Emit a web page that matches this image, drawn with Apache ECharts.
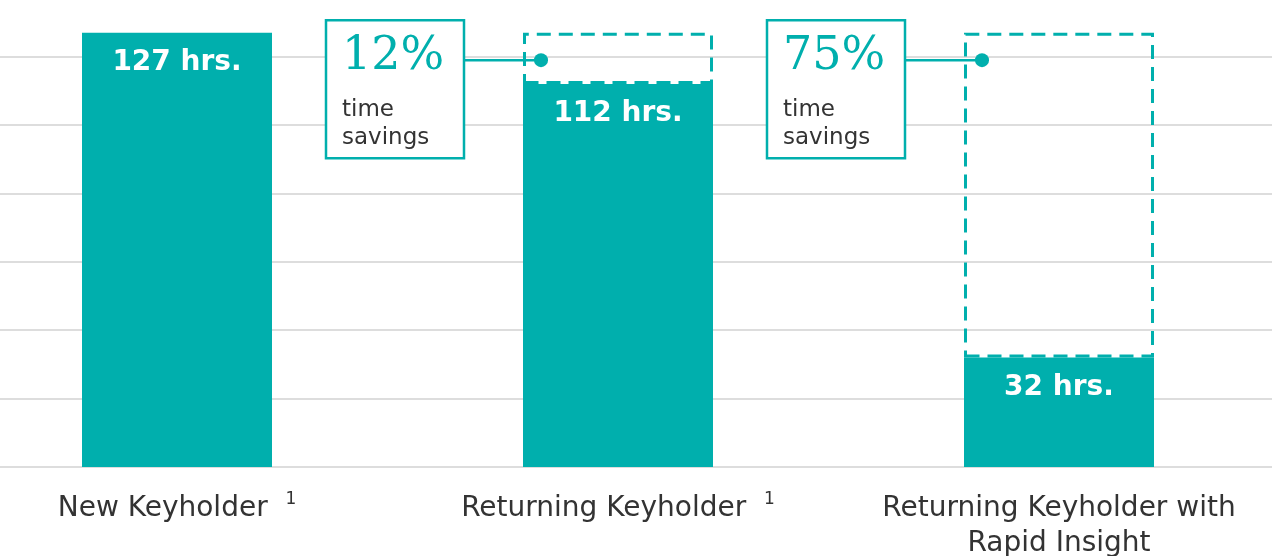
<!DOCTYPE html><html><head><meta charset="utf-8">
<script src="https://cdn.jsdelivr.net/npm/echarts@6/dist/echarts.min.js"></script>
<style>html,body{margin:0;padding:0;background:#fff}#c{width:1272px;height:556px}</style></head><body><div id="c"></div>
<script>
const categories=['New Keyholder','Returning Keyholder','Returning Keyholder with\nRapid Insight'];
const sups=['1','1',''];
const hours=[127,112,32];
const saved=[0,15,95];
const savingsText=['','12%','75%'];
const teal='#00AFAD';
const chart=echarts.init(document.getElementById('c'));
chart.setOption({
 animation:false,
 grid:{left:-43.5,width:1323,top:2,bottom:89,outerBoundsMode:'none',containLabel:false},
 xAxis:{type:'category',data:categories,axisTick:{show:false},axisLine:{lineStyle:{color:'#ddd',width:2}},
  axisLabel:{interval:0,margin:24,fontFamily:'DejaVu Sans',fontSize:28,color:'#333',lineHeight:35,
   formatter:(v,i)=>sups[i]?v+'  {s|'+sups[i]+'}':v,
   rich:{s:{fontSize:17,fontFamily:'DejaVu Sans',color:'#333',padding:[0,0,18,0]}}}},
 yAxis:{type:'value',min:0,max:136,interval:20,axisLabel:{show:false},
  splitLine:{showMaxLine:false,lineStyle:{color:'#ddd',width:2}}},
 series:[
  {type:'bar',stack:'a',data:hours,barWidth:190,itemStyle:{color:teal},
   label:{show:true,position:'insideTop',distance:16,formatter:p=>p.value+' hrs.',color:'#fff',fontWeight:'bold',fontSize:28,fontFamily:'DejaVu Sans'}},
  {type:'bar',stack:'a',data:saved.map(v=>v||null),barWidth:190,
   itemStyle:{color:'rgba(0,0,0,0)',borderColor:teal,borderWidth:3,borderType:[14,8]}}
 ]
});
const g=[];
[1,2].forEach(i=>{
 const p=chart.convertToPixel({xAxisIndex:0,yAxisIndex:0},[i,119]);
 const dx=p[0]-77,dy=p[1];
 const bx=dx-215,by=dy-40;
 g.push({type:'rect',shape:{x:bx,y:by,width:138,height:138},style:{fill:'#fff',stroke:teal,lineWidth:2.5}});
 g.push({type:'line',shape:{x1:bx+138,y1:dy,x2:dx,y2:dy},style:{stroke:teal,lineWidth:2.5}});
 g.push({type:'circle',shape:{cx:dx,cy:dy,r:7},style:{fill:teal}});
 g.push({type:'text',x:bx+16,y:by+14,style:{text:savingsText[i],fill:teal,font:'46px "DejaVu Serif"'}});
 g.push({type:'text',x:bx+16,y:by+76,style:{text:'time\nsavings',fill:'#333',font:'23px "DejaVu Sans"',lineHeight:28}});
});
chart.setOption({graphic:g});
</script></body></html>
